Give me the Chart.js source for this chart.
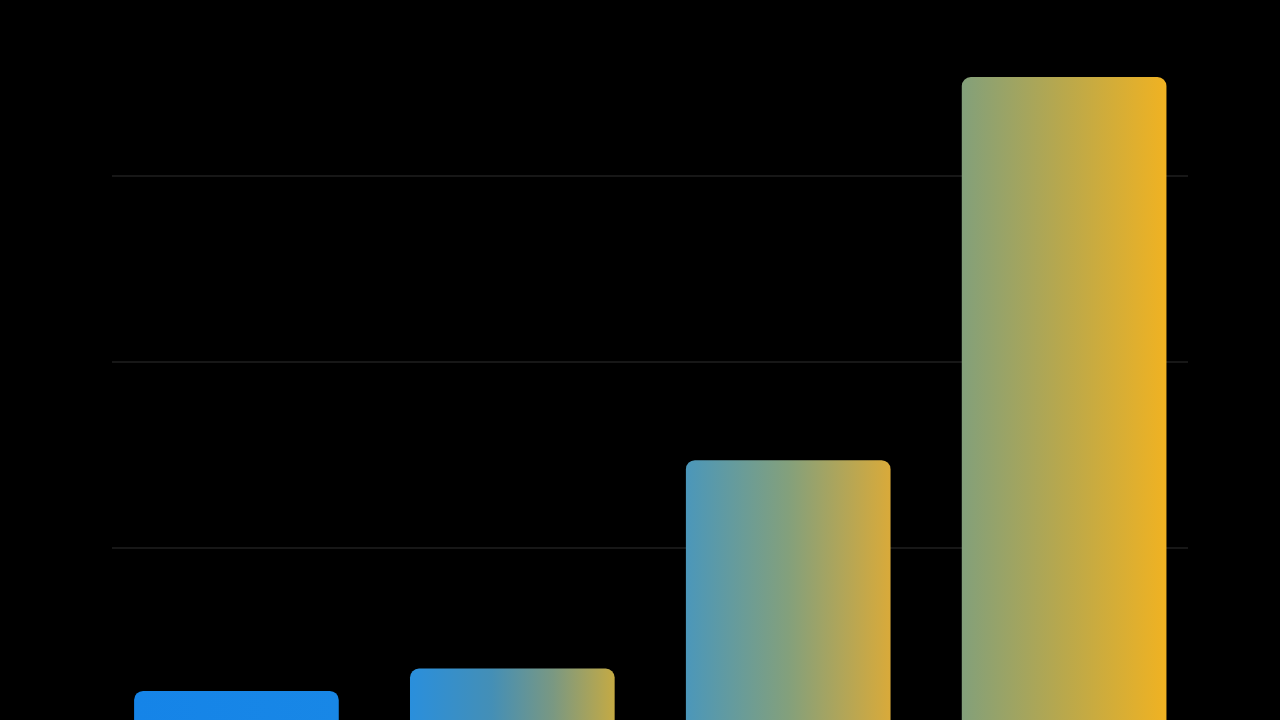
<!DOCTYPE html>
<html>
<head>
<meta charset="utf-8">
<script src="https://cdn.jsdelivr.net/npm/chart.js@4/dist/chart.umd.min.js"></script>
<style>
html,body{margin:0;padding:0;background:#000;overflow:hidden}
#wrap{width:1280px;height:720px;position:relative}
</style>
</head>
<body>
<div id="wrap"><canvas id="c"></canvas></div>
<script>
// ---- data ----
const categories = ['A', 'B', 'C', 'D'];
const values = [0.23, 0.35, 1.47, 3.53];
const gridTicks = [1, 2, 3];

// ---- styles (not data) ----
const BAR_W = 204;
const barGradients = [
  [[0, '#1584e8'], [1, '#1887e6']],
  [[0, '#2a8fdc'], [0.4, '#448fb6'], [0.7, '#7a9882'], [1, '#c4aa44']],
  [[0, '#4b97ba'], [0.5, '#83a07c'], [1, '#d9aa3a']],
  [[0, '#83a07a'], [0.5, '#b9a84c'], [1, '#f0b222']]
];

function barFill(ctx) {
  const chart = ctx.chart;
  const stops = barGradients[ctx.dataIndex] || barGradients[0];
  if (!chart.chartArea || !chart.scales.x) return stops[0][1];
  const cx = chart.scales.x.getPixelForValue(ctx.dataIndex);
  const g = chart.ctx.createLinearGradient(cx - BAR_W / 2, 0, cx + BAR_W / 2, 0);
  stops.forEach(s => g.addColorStop(s[0], s[1]));
  return g;
}

new Chart(document.getElementById('c'), {
  type: 'bar',
  data: {
    datasets: [{
      label: 'values',
      data: values.map((v, i) => ({ x: i, y: v })),
      backgroundColor: barFill,
      borderWidth: 0,
      borderRadius: { topLeft: 9, topRight: 9, bottomLeft: 0, bottomRight: 0 },
      borderSkipped: 'start',
      barThickness: BAR_W
    }]
  },
  options: {
    responsive: true,
    maintainAspectRatio: false,
    animation: false,
    devicePixelRatio: 1,
    layout: { padding: { left: 112, right: 92, top: 0, bottom: 0 } },
    plugins: { legend: { display: false }, tooltip: { enabled: false }, title: { display: false } },
    scales: {
      x: {
        type: 'linear',
        min: -0.451,
        max: 3.449,
        offset: false,
        bounds: 'data',
        display: false,
        grid: { offset: false },
        ticks: { callback: (v) => categories[v] }
      },
      y: {
        min: 0.0753,
        max: 3.946,
        z: 1,
        afterBuildTicks: (scale) => { scale.ticks = gridTicks.map(v => ({ value: v })); },
        afterFit: (scale) => { scale.width = 0; },
        ticks: { display: false },
        border: { display: false },
        grid: { color: 'rgba(255,255,255,0.09)', lineWidth: 2, drawTicks: false }
      }
    }
  }
});
</script>
</body>
</html>
